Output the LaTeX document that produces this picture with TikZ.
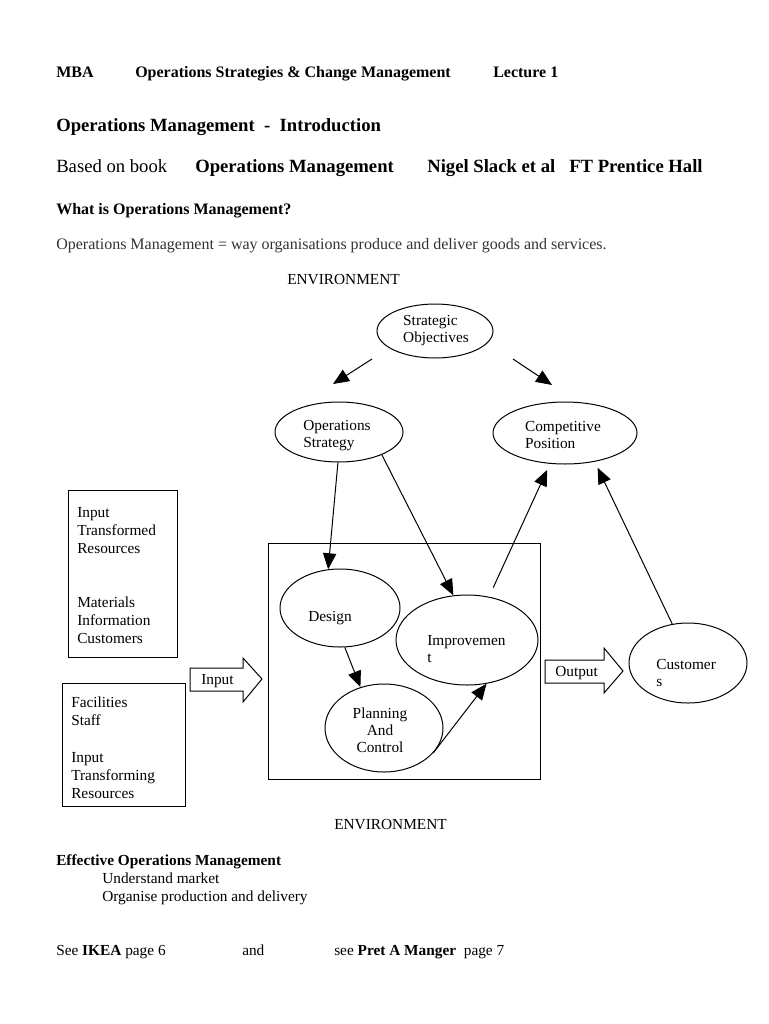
\documentclass[tikz,border=0pt]{standalone}
\usepackage{fontspec}
\setmainfont{Liberation Serif}
\usetikzlibrary{arrows.meta,shapes.geometric}
\tikzset{
  px/.style={x=0.75pt,y=-0.75pt},
  txt/.style={anchor=base west,inner sep=0pt,font=\fontsize{12}{14}\selectfont},
  dtxt/.style={inner sep=0pt,align=left,font=\fontsize{11.5}{12.75}\selectfont},
  oval/.style={draw,ellipse,line width=0.75pt,inner sep=0pt},
  arr/.style={line width=0.75pt,-{Triangle[length=12pt,width=10pt]}},
  frame/.style={draw,line width=0.75pt,inner sep=0pt,anchor=north west},
}
\newcommand{\ovl}[5]{\node[oval,minimum width=#4*1.5pt,minimum height=#5*1.5pt] (#1) at (#2,#3) {};}
\begin{document}
\begin{tikzpicture}[px]
\useasboundingbox[fill=white] (0,0) rectangle (768,1024);
% header
\node[txt,font=\bfseries\fontsize{12}{14}\selectfont] (mba) at (56,78) {MBA};
\node[txt,font=\bfseries\fontsize{12}{14}\selectfont] (course) at (135,78) {Operations Strategies \& Change Management};
\node[txt,font=\bfseries\fontsize{12}{14}\selectfont] (lect) at (493,78) {Lecture 1};
\node[txt,font=\bfseries\fontsize{14}{16}\selectfont] (title) at (56,131) {Operations Management\ \ -\ \ Introduction};
\node[txt,font=\fontsize{14}{16}\selectfont] (based) at (56,172) {Based on book};
\node[txt,font=\bfseries\fontsize{14}{16}\selectfont] (book) at (195,172) {Operations Management};
\node[txt,font=\bfseries\fontsize{14}{16}\selectfont] (auth) at (427,172) {Nigel Slack et al};
\node[txt,font=\bfseries\fontsize{14}{16}\selectfont] (pub) at (569,172) {FT Prentice Hall};
\node[txt,font=\bfseries\fontsize{12}{14}\selectfont] (what) at (56,214) {What is Operations Management?};
\node[txt,text=black!80] (def) at (56,249) {Operations Management = way organisations produce and deliver goods and services.};
\node[txt,font=\fontsize{11.5}{13}\selectfont] (env1) at (287,284) {ENVIRONMENT};
% ellipses
\ovl{so}{435}{331}{58}{27}
\node[dtxt] (sot) at (436,331) {Strategic\\Objectives};
\ovl{os}{339}{432}{64}{30}
\node[dtxt] (ost) at (337,436) {Operations\\Strategy};
\ovl{cp}{565}{433}{72}{31}
\node[dtxt] (cpt) at (563,435) {Competitive\\Position};
% left boxes
\node[frame,minimum width=82pt,minimum height=125pt] (b1) at (68,490) {};
\node[dtxt,anchor=north west,font=\fontsize{11.5}{13.5}\selectfont] (b1t) at (77,507) {Input\\Transformed\\Resources\\[27pt]Materials\\Information\\Customers};
\node[frame,minimum width=92pt,minimum height=92pt] (b2) at (62,683) {};
\node[dtxt,anchor=north west,font=\fontsize{11.5}{13.5}\selectfont] (b2t) at (71,697) {Facilities\\Staff\\[14pt]Input\\Transforming\\Resources};
% input block arrow
\draw[line width=0.75pt] (190,668) -- (243,668) -- (243,658) -- (262,679) -- (243,702) -- (243,691) -- (190,691) -- cycle;
\node[txt,font=\fontsize{11.5}{13}\selectfont] (inp) at (201,684) {Input};
% main box
\node[frame,minimum width=204pt,minimum height=177pt] (main) at (268,543) {};
\ovl{design}{340}{608}{60}{39}
\node[dtxt] (dest) at (330,618) {Design};
\ovl{impr}{467}{640}{71}{45}
\node[dtxt,anchor=north west] (imprt) at (427,635) {Improvemen\\t};
\ovl{plan}{384}{728}{59}{44}
\node[dtxt,align=center] (plant) at (380,730) {Planning\\And\\Control};
% output block arrow
\draw[line width=0.75pt] (545,660) -- (604,660) -- (604,648) -- (623,671) -- (604,693) -- (604,683) -- (545,683) -- cycle;
\node[txt,font=\fontsize{11.5}{13}\selectfont] (outp) at (555,676) {Output};
\ovl{cust}{688}{663}{59}{40}
\node[dtxt,anchor=north west] (custt) at (656,659) {Customer\\s};
% connectors
\coordinate (t1) at (333,384);
\coordinate (t2) at (552,385);
\draw[arr] (372,359) -- (t1);
\draw[arr] (513,359) -- (t2);
\draw[arr] (os.268) -- (design.107);
\draw[arr] (os.332) -- (impr.107);
\draw[arr,shorten <=7.5pt,shorten >=5pt] (impr.63) -- (cp.244);
\draw[arr,shorten >=5pt] (cust.112) -- (cp.316);
\draw[arr] (design.277) -- (plan.120);
\draw[arr] (plan.333) -- (impr.294);
% bottom text
\node[txt,font=\fontsize{11.5}{13}\selectfont] (env2) at (334,829) {ENVIRONMENT};
\node[txt,font=\bfseries\fontsize{11.5}{13}\selectfont] (eff) at (56,865) {Effective Operations Management};
\node[txt,font=\fontsize{11.5}{13}\selectfont] (und) at (102,883) {Understand market};
\node[txt,font=\fontsize{11.5}{13}\selectfont] (org) at (102,901) {Organise production and delivery};
\node[txt,font=\fontsize{11.5}{13}\selectfont] (ikea) at (56,955) {See \textbf{IKEA} page 6};
\node[txt,font=\fontsize{11.5}{13}\selectfont] (and) at (242,955) {and};
\node[txt,font=\fontsize{11.5}{13}\selectfont] (pret) at (334,955) {see \textbf{Pret A Manger}\ \ page 7};
\end{tikzpicture}
\end{document}
